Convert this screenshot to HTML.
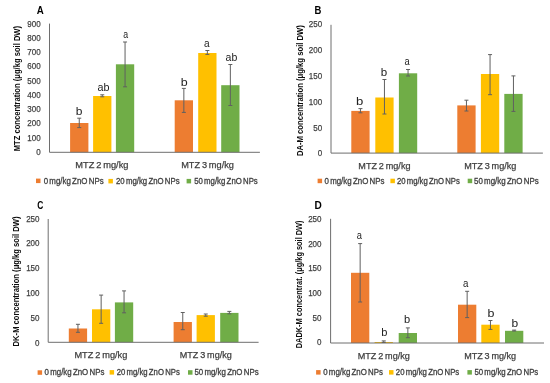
<!DOCTYPE html>
<html><head><meta charset="utf-8"><style>
html,body{margin:0;padding:0;background:#fff;}
svg{display:block;will-change:transform;filter:blur(0.3px);font-family:"Liberation Sans",sans-serif;}

</style></head><body>
<svg width="550" height="383" viewBox="0 0 550 383">
<rect width="550" height="383" fill="#fff"/>
<rect x="70.10" y="123.00" width="18.3" height="29.30" fill="#ED7D31"/>
<rect x="93.10" y="96.00" width="18.3" height="56.30" fill="#FFC000"/>
<rect x="115.90" y="64.30" width="18.3" height="88.00" fill="#70AD47"/>
<rect x="174.70" y="100.30" width="18.3" height="52.00" fill="#ED7D31"/>
<rect x="198.20" y="53.00" width="18.3" height="99.30" fill="#FFC000"/>
<rect x="221.20" y="85.20" width="18.3" height="67.10" fill="#70AD47"/>
<path d="M49.50 23.60V152.30H259.90" stroke="#6E6E6E" stroke-width="1" fill="none"/>
<path d="M79.25 118.20V127.60M77.25 118.20H81.25M77.25 127.60H81.25" stroke="#606060" stroke-width="1" fill="none"/>
<text x="75.73" y="114.75" font-size="10.6" textLength="6.68" lengthAdjust="spacingAndGlyphs" fill="#222222">b</text>
<path d="M102.25 94.80V96.80M100.25 94.80H104.25M100.25 96.80H104.25" stroke="#606060" stroke-width="1" fill="none"/>
<text x="97.54" y="90.95" font-size="10.6" textLength="12.01" lengthAdjust="spacingAndGlyphs" fill="#222222">ab</text>
<path d="M125.05 42.00V86.80M123.05 42.00H127.05M123.05 86.80H127.05" stroke="#606060" stroke-width="1" fill="none"/>
<text x="123.33" y="38.25" font-size="10.6" textLength="4.87" lengthAdjust="spacingAndGlyphs" fill="#222222">a</text>
<path d="M183.85 88.40V112.40M181.85 88.40H185.85M181.85 112.40H185.85" stroke="#606060" stroke-width="1" fill="none"/>
<text x="180.70" y="85.75" font-size="10.6" textLength="6.93" lengthAdjust="spacingAndGlyphs" fill="#222222">b</text>
<path d="M207.35 50.50V54.40M205.35 50.50H209.35M205.35 54.40H209.35" stroke="#606060" stroke-width="1" fill="none"/>
<text x="204.07" y="47.15" font-size="10.6" textLength="5.63" lengthAdjust="spacingAndGlyphs" fill="#222222">a</text>
<path d="M230.35 64.50V105.50M228.35 64.50H232.35M228.35 105.50H232.35" stroke="#606060" stroke-width="1" fill="none"/>
<text x="225.55" y="61.15" font-size="10.6" textLength="11.69" lengthAdjust="spacingAndGlyphs" fill="#222222">ab</text>
<text x="36.16" y="154.85" font-size="9.6" textLength="4.46" lengthAdjust="spacingAndGlyphs" fill="#3F3F3F" stroke="#3F3F3F" stroke-width="0.25">0</text>
<text x="27.24" y="140.62" font-size="9.6" textLength="13.37" lengthAdjust="spacingAndGlyphs" fill="#3F3F3F" stroke="#3F3F3F" stroke-width="0.25">100</text>
<text x="27.24" y="126.38" font-size="9.6" textLength="13.37" lengthAdjust="spacingAndGlyphs" fill="#3F3F3F" stroke="#3F3F3F" stroke-width="0.25">200</text>
<text x="27.24" y="112.15" font-size="9.6" textLength="13.37" lengthAdjust="spacingAndGlyphs" fill="#3F3F3F" stroke="#3F3F3F" stroke-width="0.25">300</text>
<text x="27.24" y="97.92" font-size="9.6" textLength="13.37" lengthAdjust="spacingAndGlyphs" fill="#3F3F3F" stroke="#3F3F3F" stroke-width="0.25">400</text>
<text x="27.24" y="83.68" font-size="9.6" textLength="13.37" lengthAdjust="spacingAndGlyphs" fill="#3F3F3F" stroke="#3F3F3F" stroke-width="0.25">500</text>
<text x="27.24" y="69.45" font-size="9.6" textLength="13.37" lengthAdjust="spacingAndGlyphs" fill="#3F3F3F" stroke="#3F3F3F" stroke-width="0.25">600</text>
<text x="27.24" y="55.22" font-size="9.6" textLength="13.37" lengthAdjust="spacingAndGlyphs" fill="#3F3F3F" stroke="#3F3F3F" stroke-width="0.25">700</text>
<text x="27.24" y="40.98" font-size="9.6" textLength="13.37" lengthAdjust="spacingAndGlyphs" fill="#3F3F3F" stroke="#3F3F3F" stroke-width="0.25">800</text>
<text x="27.24" y="26.75" font-size="9.6" textLength="13.37" lengthAdjust="spacingAndGlyphs" fill="#3F3F3F" stroke="#3F3F3F" stroke-width="0.25">900</text>
<text x="36.76" y="13.60" font-size="10.4" textLength="7.00" lengthAdjust="spacingAndGlyphs" fill="#000" font-weight="bold">A</text>
<text transform="translate(19.90,151.31) rotate(-90)" x="0" y="0" font-size="8.3" textLength="125.39" lengthAdjust="spacingAndGlyphs" fill="#0d0d0d" font-weight="bold">MTZ concentration (μg/kg soil DW)</text>
<text x="75.24" y="167.70" font-size="9.3" textLength="53.26" lengthAdjust="spacingAndGlyphs" fill="#3F3F3F" word-spacing="-0.7" stroke="#3F3F3F" stroke-width="0.25">MTZ 2 mg/kg</text>
<text x="181.15" y="167.70" font-size="9.3" textLength="52.75" lengthAdjust="spacingAndGlyphs" fill="#3F3F3F" word-spacing="-0.7" stroke="#3F3F3F" stroke-width="0.25">MTZ 3 mg/kg</text>
<rect x="36.00" y="178.60" width="4.5" height="4.5" fill="#ED7D31"/>
<text x="43.69" y="183.70" font-size="8.6" textLength="59.89" lengthAdjust="spacingAndGlyphs" fill="#3F3F3F" word-spacing="-1.0" stroke="#3F3F3F" stroke-width="0.3">0 mg/kg ZnO NPs</text>
<rect x="108.40" y="178.90" width="4.5" height="4.5" fill="#FFC000"/>
<text x="116.01" y="183.70" font-size="8.6" textLength="63.57" lengthAdjust="spacingAndGlyphs" fill="#3F3F3F" word-spacing="-1.0" stroke="#3F3F3F" stroke-width="0.3">20 mg/kg ZnO NPs</text>
<rect x="186.60" y="178.90" width="4.5" height="4.5" fill="#70AD47"/>
<text x="194.19" y="183.70" font-size="8.6" textLength="63.59" lengthAdjust="spacingAndGlyphs" fill="#3F3F3F" word-spacing="-1.0" stroke="#3F3F3F" stroke-width="0.3">50 mg/kg ZnO NPs</text>
<rect x="351.30" y="110.90" width="18.3" height="42.20" fill="#ED7D31"/>
<rect x="375.30" y="97.50" width="18.3" height="55.60" fill="#FFC000"/>
<rect x="398.90" y="73.30" width="18.3" height="79.80" fill="#70AD47"/>
<rect x="457.30" y="105.40" width="18.3" height="47.70" fill="#ED7D31"/>
<rect x="480.90" y="74.00" width="18.3" height="79.10" fill="#FFC000"/>
<rect x="504.30" y="93.90" width="18.3" height="59.20" fill="#70AD47"/>
<path d="M331.00 24.80V153.10H542.90" stroke="#6E6E6E" stroke-width="1" fill="none"/>
<path d="M360.45 108.60V112.80M358.45 108.60H362.45M358.45 112.80H362.45" stroke="#606060" stroke-width="1" fill="none"/>
<text x="356.05" y="105.05" font-size="10.6" textLength="7.30" lengthAdjust="spacingAndGlyphs" fill="#222222">b</text>
<path d="M384.45 79.50V114.00M382.45 79.50H386.45M382.45 114.00H386.45" stroke="#606060" stroke-width="1" fill="none"/>
<text x="380.85" y="76.45" font-size="10.6" textLength="6.43" lengthAdjust="spacingAndGlyphs" fill="#222222">b</text>
<path d="M408.05 69.50V76.00M406.05 69.50H410.05M406.05 76.00H410.05" stroke="#606060" stroke-width="1" fill="none"/>
<text x="404.60" y="64.75" font-size="10.6" textLength="5.20" lengthAdjust="spacingAndGlyphs" fill="#222222">a</text>
<path d="M466.45 100.20V111.00M464.45 100.20H468.45M464.45 111.00H468.45" stroke="#606060" stroke-width="1" fill="none"/>
<path d="M490.05 54.60V94.70M488.05 54.60H492.05M488.05 94.70H492.05" stroke="#606060" stroke-width="1" fill="none"/>
<path d="M513.45 75.90V111.40M511.45 75.90H515.45M511.45 111.40H515.45" stroke="#606060" stroke-width="1" fill="none"/>
<text x="317.76" y="156.45" font-size="9.6" textLength="4.46" lengthAdjust="spacingAndGlyphs" fill="#3F3F3F" stroke="#3F3F3F" stroke-width="0.25">0</text>
<text x="313.30" y="130.65" font-size="9.6" textLength="8.92" lengthAdjust="spacingAndGlyphs" fill="#3F3F3F" stroke="#3F3F3F" stroke-width="0.25">50</text>
<text x="308.84" y="104.85" font-size="9.6" textLength="13.37" lengthAdjust="spacingAndGlyphs" fill="#3F3F3F" stroke="#3F3F3F" stroke-width="0.25">100</text>
<text x="308.84" y="79.05" font-size="9.6" textLength="13.37" lengthAdjust="spacingAndGlyphs" fill="#3F3F3F" stroke="#3F3F3F" stroke-width="0.25">150</text>
<text x="308.84" y="53.25" font-size="9.6" textLength="13.37" lengthAdjust="spacingAndGlyphs" fill="#3F3F3F" stroke="#3F3F3F" stroke-width="0.25">200</text>
<text x="308.84" y="27.45" font-size="9.6" textLength="13.37" lengthAdjust="spacingAndGlyphs" fill="#3F3F3F" stroke="#3F3F3F" stroke-width="0.25">250</text>
<text x="314.46" y="13.60" font-size="10.4" textLength="6.87" lengthAdjust="spacingAndGlyphs" fill="#000" font-weight="bold">B</text>
<text transform="translate(302.50,156.11) rotate(-90)" x="0" y="0" font-size="8.3" textLength="131.00" lengthAdjust="spacingAndGlyphs" fill="#0d0d0d" font-weight="bold">DA-M concentration (μg/kg soil DW)</text>
<text x="358.35" y="169.20" font-size="9.3" textLength="52.13" lengthAdjust="spacingAndGlyphs" fill="#3F3F3F" word-spacing="-0.7" stroke="#3F3F3F" stroke-width="0.25">MTZ 2 mg/kg</text>
<text x="464.15" y="169.20" font-size="9.3" textLength="52.23" lengthAdjust="spacingAndGlyphs" fill="#3F3F3F" word-spacing="-0.7" stroke="#3F3F3F" stroke-width="0.25">MTZ 3 mg/kg</text>
<rect x="317.60" y="178.70" width="4.5" height="4.5" fill="#ED7D31"/>
<text x="324.49" y="183.80" font-size="8.6" textLength="59.99" lengthAdjust="spacingAndGlyphs" fill="#3F3F3F" word-spacing="-1.0" stroke="#3F3F3F" stroke-width="0.3">0 mg/kg ZnO NPs</text>
<rect x="390.40" y="178.70" width="4.5" height="4.5" fill="#FFC000"/>
<text x="396.91" y="183.80" font-size="8.6" textLength="62.87" lengthAdjust="spacingAndGlyphs" fill="#3F3F3F" word-spacing="-1.0" stroke="#3F3F3F" stroke-width="0.3">20 mg/kg ZnO NPs</text>
<rect x="467.70" y="178.70" width="4.5" height="4.5" fill="#70AD47"/>
<text x="473.98" y="183.80" font-size="8.6" textLength="64.70" lengthAdjust="spacingAndGlyphs" fill="#3F3F3F" word-spacing="-1.0" stroke="#3F3F3F" stroke-width="0.3">50 mg/kg ZnO NPs</text>
<rect x="68.80" y="328.50" width="18.3" height="13.80" fill="#ED7D31"/>
<rect x="92.00" y="309.30" width="18.3" height="33.00" fill="#FFC000"/>
<rect x="114.90" y="302.40" width="18.3" height="39.90" fill="#70AD47"/>
<rect x="173.60" y="322.00" width="18.3" height="20.30" fill="#ED7D31"/>
<rect x="196.60" y="315.10" width="18.3" height="27.20" fill="#FFC000"/>
<rect x="220.20" y="312.90" width="18.3" height="29.40" fill="#70AD47"/>
<path d="M48.20 219.00V342.30H258.60" stroke="#6E6E6E" stroke-width="1" fill="none"/>
<path d="M77.95 324.30V332.30M75.95 324.30H79.95M75.95 332.30H79.95" stroke="#606060" stroke-width="1" fill="none"/>
<path d="M101.15 295.10V323.30M99.15 295.10H103.15M99.15 323.30H103.15" stroke="#606060" stroke-width="1" fill="none"/>
<path d="M124.05 290.90V312.80M122.05 290.90H126.05M122.05 312.80H126.05" stroke="#606060" stroke-width="1" fill="none"/>
<path d="M182.75 312.50V329.70M180.75 312.50H184.75M180.75 329.70H184.75" stroke="#606060" stroke-width="1" fill="none"/>
<path d="M205.75 314.00V316.20M203.75 314.00H207.75M203.75 316.20H207.75" stroke="#606060" stroke-width="1" fill="none"/>
<path d="M229.35 311.40V313.80M227.35 311.40H231.35M227.35 313.80H231.35" stroke="#606060" stroke-width="1" fill="none"/>
<text x="35.06" y="345.75" font-size="9.6" textLength="4.46" lengthAdjust="spacingAndGlyphs" fill="#3F3F3F" stroke="#3F3F3F" stroke-width="0.25">0</text>
<text x="30.60" y="320.93" font-size="9.6" textLength="8.92" lengthAdjust="spacingAndGlyphs" fill="#3F3F3F" stroke="#3F3F3F" stroke-width="0.25">50</text>
<text x="26.14" y="296.11" font-size="9.6" textLength="13.37" lengthAdjust="spacingAndGlyphs" fill="#3F3F3F" stroke="#3F3F3F" stroke-width="0.25">100</text>
<text x="26.14" y="271.29" font-size="9.6" textLength="13.37" lengthAdjust="spacingAndGlyphs" fill="#3F3F3F" stroke="#3F3F3F" stroke-width="0.25">150</text>
<text x="26.14" y="246.47" font-size="9.6" textLength="13.37" lengthAdjust="spacingAndGlyphs" fill="#3F3F3F" stroke="#3F3F3F" stroke-width="0.25">200</text>
<text x="26.14" y="221.65" font-size="9.6" textLength="13.37" lengthAdjust="spacingAndGlyphs" fill="#3F3F3F" stroke="#3F3F3F" stroke-width="0.25">250</text>
<text x="37.15" y="209.10" font-size="10.4" textLength="6.08" lengthAdjust="spacingAndGlyphs" fill="#000" font-weight="bold">C</text>
<text transform="translate(18.50,346.41) rotate(-90)" x="0" y="0" font-size="8.3" textLength="129.99" lengthAdjust="spacingAndGlyphs" fill="#0d0d0d" font-weight="bold">DK-M concentration (μg/kg soil DW)</text>
<text x="74.44" y="358.20" font-size="9.3" textLength="52.85" lengthAdjust="spacingAndGlyphs" fill="#3F3F3F" word-spacing="-0.7" stroke="#3F3F3F" stroke-width="0.25">MTZ 2 mg/kg</text>
<text x="179.76" y="358.20" font-size="9.3" textLength="52.03" lengthAdjust="spacingAndGlyphs" fill="#3F3F3F" word-spacing="-0.7" stroke="#3F3F3F" stroke-width="0.25">MTZ 3 mg/kg</text>
<rect x="37.60" y="370.30" width="4.5" height="4.5" fill="#ED7D31"/>
<text x="44.59" y="375.00" font-size="8.6" textLength="59.79" lengthAdjust="spacingAndGlyphs" fill="#3F3F3F" word-spacing="-1.0" stroke="#3F3F3F" stroke-width="0.3">0 mg/kg ZnO NPs</text>
<rect x="109.60" y="370.10" width="4.5" height="4.5" fill="#FFC000"/>
<text x="116.71" y="375.00" font-size="8.6" textLength="63.07" lengthAdjust="spacingAndGlyphs" fill="#3F3F3F" word-spacing="-1.0" stroke="#3F3F3F" stroke-width="0.3">20 mg/kg ZnO NPs</text>
<rect x="188.00" y="370.20" width="4.5" height="4.5" fill="#70AD47"/>
<text x="194.38" y="375.00" font-size="8.6" textLength="64.30" lengthAdjust="spacingAndGlyphs" fill="#3F3F3F" word-spacing="-1.0" stroke="#3F3F3F" stroke-width="0.3">50 mg/kg ZnO NPs</text>
<rect x="351.00" y="272.80" width="18.3" height="70.20" fill="#ED7D31"/>
<rect x="374.60" y="342.00" width="18.3" height="1.00" fill="#FFC000"/>
<rect x="398.70" y="333.00" width="18.3" height="10.00" fill="#70AD47"/>
<rect x="458.00" y="304.70" width="18.3" height="38.30" fill="#ED7D31"/>
<rect x="481.30" y="324.70" width="18.3" height="18.30" fill="#FFC000"/>
<rect x="505.00" y="330.80" width="18.3" height="12.20" fill="#70AD47"/>
<path d="M330.60 218.80V343.00H544.00" stroke="#6E6E6E" stroke-width="1" fill="none"/>
<path d="M360.15 243.60V302.00M358.15 243.60H362.15M358.15 302.00H362.15" stroke="#606060" stroke-width="1" fill="none"/>
<text x="356.70" y="239.25" font-size="10.6" textLength="5.20" lengthAdjust="spacingAndGlyphs" fill="#222222">a</text>
<path d="M383.75 340.90V342.40M381.75 340.90H385.75M381.75 342.40H385.75" stroke="#606060" stroke-width="1" fill="none"/>
<text x="381.28" y="336.15" font-size="10.6" textLength="6.18" lengthAdjust="spacingAndGlyphs" fill="#222222">b</text>
<path d="M407.85 327.90V337.70M405.85 327.90H409.85M405.85 337.70H409.85" stroke="#606060" stroke-width="1" fill="none"/>
<text x="403.98" y="322.85" font-size="10.6" textLength="6.18" lengthAdjust="spacingAndGlyphs" fill="#222222">b</text>
<path d="M467.15 291.30V317.60M465.15 291.30H469.15M465.15 317.60H469.15" stroke="#606060" stroke-width="1" fill="none"/>
<text x="462.99" y="287.05" font-size="10.6" textLength="5.41" lengthAdjust="spacingAndGlyphs" fill="#222222">a</text>
<path d="M490.45 320.50V329.40M488.45 320.50H492.45M488.45 329.40H492.45" stroke="#606060" stroke-width="1" fill="none"/>
<text x="487.60" y="316.95" font-size="10.6" textLength="6.93" lengthAdjust="spacingAndGlyphs" fill="#222222">b</text>
<path d="M514.15 330.10V331.00M512.15 330.10H516.15M512.15 331.00H516.15" stroke="#606060" stroke-width="1" fill="none"/>
<text x="511.63" y="326.85" font-size="10.6" textLength="6.68" lengthAdjust="spacingAndGlyphs" fill="#222222">b</text>
<text x="317.06" y="345.45" font-size="9.6" textLength="4.46" lengthAdjust="spacingAndGlyphs" fill="#3F3F3F" stroke="#3F3F3F" stroke-width="0.25">0</text>
<text x="312.60" y="320.73" font-size="9.6" textLength="8.92" lengthAdjust="spacingAndGlyphs" fill="#3F3F3F" stroke="#3F3F3F" stroke-width="0.25">50</text>
<text x="308.14" y="296.01" font-size="9.6" textLength="13.37" lengthAdjust="spacingAndGlyphs" fill="#3F3F3F" stroke="#3F3F3F" stroke-width="0.25">100</text>
<text x="308.14" y="271.29" font-size="9.6" textLength="13.37" lengthAdjust="spacingAndGlyphs" fill="#3F3F3F" stroke="#3F3F3F" stroke-width="0.25">150</text>
<text x="308.14" y="246.57" font-size="9.6" textLength="13.37" lengthAdjust="spacingAndGlyphs" fill="#3F3F3F" stroke="#3F3F3F" stroke-width="0.25">200</text>
<text x="308.14" y="221.85" font-size="9.6" textLength="13.37" lengthAdjust="spacingAndGlyphs" fill="#3F3F3F" stroke="#3F3F3F" stroke-width="0.25">250</text>
<text x="314.42" y="209.00" font-size="10.4" textLength="7.30" lengthAdjust="spacingAndGlyphs" fill="#000" font-weight="bold">D</text>
<text transform="translate(301.80,348.30) rotate(-90)" x="0" y="0" font-size="8.3" textLength="127.86" lengthAdjust="spacingAndGlyphs" fill="#0d0d0d" font-weight="bold">DADK-M concentrat. (μg/kg soil DW)</text>
<text x="357.65" y="358.70" font-size="9.3" textLength="52.23" lengthAdjust="spacingAndGlyphs" fill="#3F3F3F" word-spacing="-0.7" stroke="#3F3F3F" stroke-width="0.25">MTZ 2 mg/kg</text>
<text x="464.16" y="358.70" font-size="9.3" textLength="51.93" lengthAdjust="spacingAndGlyphs" fill="#3F3F3F" word-spacing="-0.7" stroke="#3F3F3F" stroke-width="0.25">MTZ 3 mg/kg</text>
<rect x="316.10" y="370.10" width="4.5" height="4.5" fill="#ED7D31"/>
<text x="323.19" y="374.90" font-size="8.6" textLength="59.79" lengthAdjust="spacingAndGlyphs" fill="#3F3F3F" word-spacing="-1.0" stroke="#3F3F3F" stroke-width="0.3">0 mg/kg ZnO NPs</text>
<rect x="389.00" y="370.10" width="4.5" height="4.5" fill="#FFC000"/>
<text x="395.81" y="374.90" font-size="8.6" textLength="63.47" lengthAdjust="spacingAndGlyphs" fill="#3F3F3F" word-spacing="-1.0" stroke="#3F3F3F" stroke-width="0.3">20 mg/kg ZnO NPs</text>
<rect x="467.40" y="370.10" width="4.5" height="4.5" fill="#70AD47"/>
<text x="474.39" y="374.90" font-size="8.6" textLength="63.90" lengthAdjust="spacingAndGlyphs" fill="#3F3F3F" word-spacing="-1.0" stroke="#3F3F3F" stroke-width="0.3">50 mg/kg ZnO NPs</text>
</svg>
</body></html>
